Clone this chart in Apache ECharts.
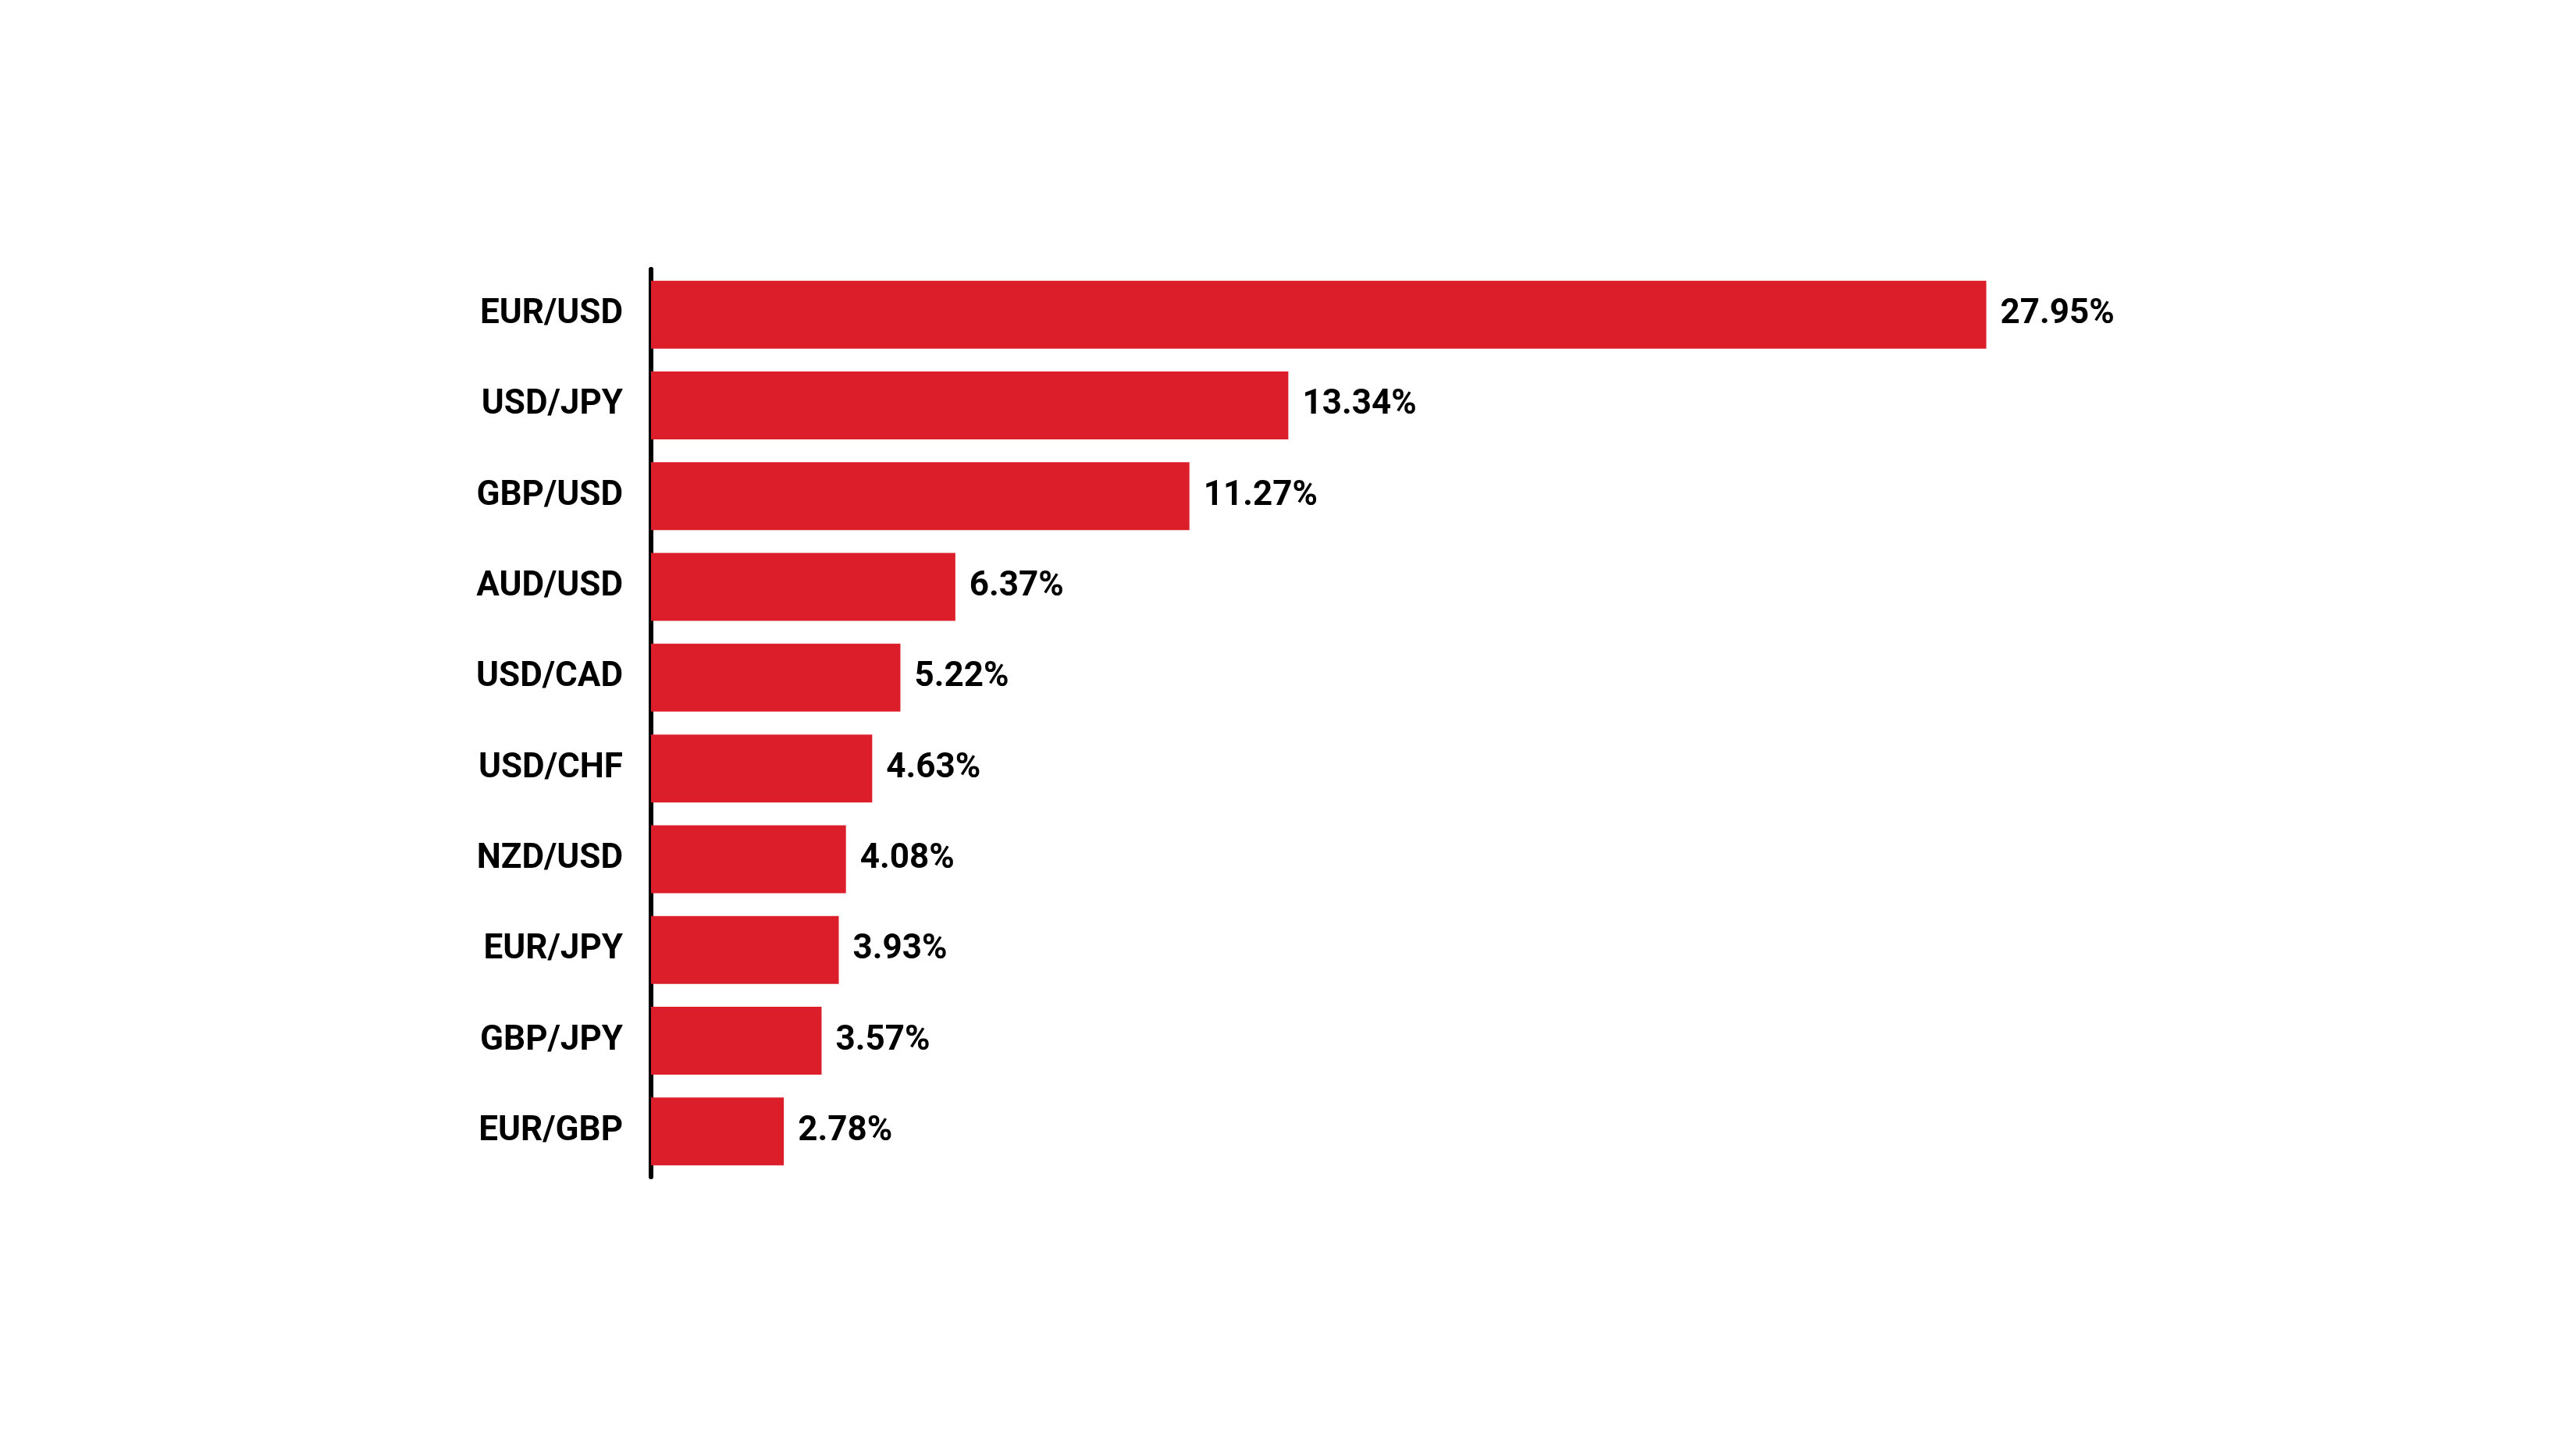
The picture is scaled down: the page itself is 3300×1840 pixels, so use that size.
<!DOCTYPE html>
<html><head><meta charset="utf-8">
<script src="https://cdn.jsdelivr.net/npm/echarts@6/dist/echarts.min.js"></script>
<style>html,body{margin:0;background:#fff}#c{width:3300px;height:1840px}</style>
</head><body><div id="c"></div>
<script>
const categories = ["EUR/USD","USD/JPY","GBP/USD","AUD/USD","USD/CAD","USD/CHF","NZD/USD","EUR/JPY","GBP/JPY","EUR/GBP"];
const values = [27.95,13.34,11.27,6.37,5.22,4.63,4.08,3.93,3.57,2.78];
const chart = echarts.init(document.getElementById('c'));
chart.setOption({
  backgroundColor:'#fff',
  animation:false,
  grid:{left:834,right:630,top:345,bottom:332},
  xAxis:{type:'value',min:0,max:30,show:false},
  yAxis:{type:'category',inverse:true,data:categories,
    axisLine:{show:true,lineStyle:{color:'#000',width:6}},
    axisTick:{show:false},
    axisLabel:{color:'#000',fontFamily:'Roboto',fontWeight:'bold',fontSize:44,margin:36}},
  series:[{type:'bar',data:values,barWidth:87,itemStyle:{color:'#DC1E2B'},
    label:{show:true,position:'right',distance:18,color:'#000',fontFamily:'Roboto',fontWeight:'bold',fontSize:44,
      formatter:p=>p.value.toFixed(2)+'%'}}]
});
</script></body></html>
